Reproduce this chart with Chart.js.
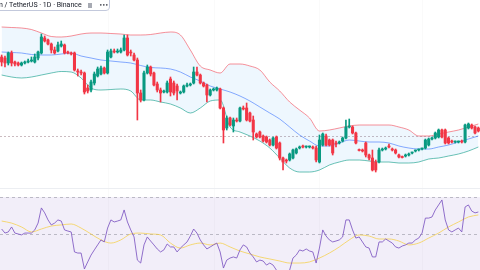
<!DOCTYPE html>
<html>
<head>
<meta charset="utf-8">
<script src="https://cdn.jsdelivr.net/npm/chart.js@4.4.1/dist/chart.umd.min.js"></script>
<style>
  html, body { margin: 0; padding: 0; background: #fff; overflow: hidden; }
  #wrap { position: relative; width: 480px; height: 270px; overflow: hidden; }
  #main { position: absolute; left: 0; top: 0; }
  #rsi { position: absolute; left: 0; top: 188px; }
  #lbox { position: absolute; left: -20px; top: -6px; width: 130px; height: 17px; box-sizing: border-box;
          border: 1px solid #c3c9dc; border-radius: 4px; background: rgba(255,255,255,0.85); }
  #ltext { position: absolute; left: -1px; top: 1px; font: 7px/8px Roboto, "Liberation Sans", sans-serif; color: #131722; white-space: nowrap; }
  #licon { position: absolute; left: 88px; top: 3px; width: 4px; height: 5px; background: #a7aab3; }
  #ldots { position: absolute; left: 99px; top: 1px; font: 6px/8px "DejaVu Sans", sans-serif; color: #4a4d57; letter-spacing: -0.5px; }
</style>
</head>
<body>
<div id="wrap">
  <canvas id="main" width="480" height="188"></canvas>
  <canvas id="rsi" width="480" height="82"></canvas>
  <div id="lbox"></div>
  <div id="ltext">n / TetherUS · 1D · Binance</div>
  <div id="licon"></div>
  <div id="ldots">•••</div>
</div>
<script>
// daily candles (price units)
var open = [143,142,137,147,138,137,135,137,138,139, 138,142,147,162,160,156,150,149,154,155,
            148,147,147,129,128,127,112,110,117,124, 126,132,127,143,149,148,148,150,162,148,
            145,140,107,100,127,133,127,116,110,108, 108,121,117,114,107,108,114,115,117,128,
            125,117,115,105,110,110,111,92,72,82, 74,80,79,92,92,87,80,66,68,64,
            63,60,55,63,57,42,40,40,42,47, 52,54,53,53,53,52,38,55,64,60,
            60,57,57,59,62,73,73,67,50,50, 57,45,42,38,38,50,51,54,51,50,
            45,43,44,45,47,49,50,51,52,55, 61,62,63,70,70,62,59,58,58,59,
            58,72,75,73,72];
var high = [145,144,148,149,139,138,138,139,141,143, 146,149,166,164,161,157,153,158,159,156,
            149,148,148,131,130,128,115,120,128,133, 134,133,150,151,151,151,152,165,165,150,
            147,142,110,129,135,134,128,118,112,110, 119,123,119,116,109,115,117,117,133,133,
            126,118,116,111,112,113,112,93,84,83, 82,82,93,94,97,88,84,67,69,65,
            64,61,63,64,58,43,41,47,51,52, 54,55,54,54,54,54,65,67,66,61,
            61,59,59,63,80,81,74,68,51,51, 58,46,50,40,52,52,53,56,52,51,
            46,44,46,47,48,50,51,52,61,62, 63,68,71,71,71,63,60,59,59,60,
            76,77,76,74,73];
var low = [134,133,135,134,134,134,134,136,137,138, 137,140,146,158,155,147,146,148,153,146,
           146,145,129,124,125,106,107,108,115,123, 125,126,126,142,147,147,147,149,144,144,
           139,80,98,99,126,124,114,108,98,107, 107,104,105,100,106,107,113,114,116,124,
           116,113,98,104,109,109,91,57,70,74, 68,78,78,90,79,78,60,62,62,58,
           57,54,54,51,40,30,37,39,41,46, 51,52,52,52,51,38,37,54,54,54,
           45,53,56,58,61,72,66,56,49,48, 43,40,29,28,37,49,50,52,49,46,
           42,42,43,44,46,48,49,50,51,54, 60,61,62,62,56,56,57,57,57,57,
           57,71,71,66,68];
var close = [138,137,147,137,136,135,137,138,139,140, 143,148,163,159,156,150,147,155,156,147,
             147,146,130,128,127,108,109,118,126,131, 132,127,148,149,148,149,150,162,145,147,
             140,107,100,127,133,126,115,110,107,109, 117,108,107,109,108,114,115,116,128,125,
             117,114,105,110,111,112,92,70,82,75, 80,79,92,91,80,79,68,63,63,59,
             58,55,62,52,42,38,39,46,50,51, 53,53,53.5,54,52,40,60,66,55,55,
             47,56,58,62,73,74,67,57,49.5,49, 45,42,30,30,50,51,52,53,50,47,
             43,42.5,45,46,48,50,51,52,60,61, 62,67,70,63,57,57,58,58.5,59,58,
             75,76,72,67,69];

// Bollinger bands, read every third candle
var bandIdx = [0,3,6,9,12,15,18,21,24,27,30,33,36,39,42,45,48,51,54,57,60,63,66,69,72,
               75,78,81,84,87,90,93,96,99,102,105,108,111,114,117,120,123,126,129,132,135,138,141,144];
var bbUpper = [173,172.5,172,170.5,167,163.5,163,164,166,167,167,166.5,166,165,165,165.5,167,168,165,150,
               134,130,127,136,136,134,130,118,109,98,90,82,69,70,72,74,75,75,75,75,
               73,70,64,64,66,68,70,73,76];
var bbMid = [148,147.5,147,145.5,145,145,146,147,144,142,140,139,138,137,134.5,132.5,132,131,128,123,
             119,114,111,108,104,99,93,87,81,73,65,59,54,54,57,60,59,58,58,57,
             54,52,51,51,53,55,58,61,64];
var bbLower = [125,123,122,123,125,127,128.5,128,122,112,110,110.5,111,109,100,100,98,96,92,87,
               92,99,100,73,68,64,59,52,42,32,28,28,30,35,38,40,40,39,38,38,
               37,37,38,41,42,44,46,49,53];

// RSI (14) per candle, and its moving average read every third candle
var rsi = [52.7,50.5,51.1,53.8,50.5,50.0,49.5,50.5,50.5,50.5, 52.2,55.9,64.1,61.4,57.6,54.9,55.9,57.6,57.0,52.2,
           51.6,51.1,40.3,39.7,39.7,31.1,34.9,38.6,41.4,44.1, 46.8,45.7,53.2,57.6,56.5,57.0,57.6,63.0,56.5,52.2,
           48.4,35.9,34.3,44.1,48.4,46.2,44.1,41.9,40.3,41.4, 44.6,43.0,43.0,40.3,42.4,44.1,45.7,48.9,52.7,50.5,
           46.8,44.1,41.9,43.0,44.1,45.1,40.3,31.6,35.9,37.0, 37.6,37.0,41.4,44.1,43.0,39.7,37.6,34.9,35.9,35.4,
           33.2,34.3,33.2,30.5,27.3,26.2,27.8,30.5,37.0,38.6, 41.4,40.8,41.9,40.8,40.3,34.3,42.4,52.2,48.9,46.8,
           45.7,46.2,46.8,48.4,57.6,57.6,52.2,47.8,48.4,45.7, 43.0,42.4,37.6,37.6,45.7,45.7,47.3,46.2,45.1,43.0,
           42.4,43.5,44.1,45.1,45.1,46.8,47.8,50.5,58.6,58.6, 59.2,63.0,65.7,68.4,57.6,52.2,51.1,52.2,53.2,51.1,
           64.6,65.7,62.4,61.4,61.9];
var rsiMa = [57.0,55.9,53.8,51.1,52.7,54.3,54.9,55.4,53.2,50.0,46.8,45.1,46.8,50.0,50.5,50.0,49.5,45.1,42.4,44.1,
             45.1,44.1,45.1,43.0,40.8,39.2,37.6,36.5,35.4,34.3,34.3,34.9,37.0,39.7,43.0,46.8,49.5,48.9,47.3,47.3,
             46.2,44.1,45.1,47.8,50.5,53.8,56.5,59.2,60.3];
var rsiLevels = [70, 50, 30];
var priceLine = 64;
var gridTicks = [32, 64, 96, 127];

var upColor = '#089981', downColor = '#f23645';
var candleIdx = open.map(function (_, i) { return i; });
var colors = candleIdx.map(function (i) { return close[i] >= open[i] ? upColor : downColor; });

function pts(xs, ys) {
    return xs.map(function (x, i) { return { x: x, y: ys[i] }; });
}

function drawGrid(chart) {
    var ctx = chart.ctx, a = chart.chartArea, x = chart.scales.x;
    ctx.save();
    ctx.strokeStyle = 'rgba(42,46,57,0.022)';
    ctx.lineWidth = 1;
    gridTicks.forEach(function (t) {
        var px = Math.round(x.getPixelForValue(t)) + 0.5;
        ctx.beginPath(); ctx.moveTo(px, a.top); ctx.lineTo(px, a.bottom); ctx.stroke();
    });
    ctx.restore();
}

var mainGrid = {
    id: 'mainGrid',
    beforeDatasetsDraw: function (chart) {
        drawGrid(chart);
        var ctx = chart.ctx, a = chart.chartArea;
        var py = Math.round(chart.scales.y.getPixelForValue(priceLine)) + 0.5;
        ctx.save();
        ctx.strokeStyle = 'rgba(190,170,176,0.8)';
        ctx.setLineDash([2, 2]);
        ctx.beginPath(); ctx.moveTo(a.left, py); ctx.lineTo(a.right, py); ctx.stroke();
        ctx.restore();
    }
};

var rsiBands = {
    id: 'rsiBands',
    beforeDatasetsDraw: function (chart) {
        var ctx = chart.ctx, a = chart.chartArea, y = chart.scales.y;
        var top = y.getPixelForValue(rsiLevels[0]), bot = y.getPixelForValue(rsiLevels[2]);
        ctx.save();
        ctx.fillStyle = 'rgba(126,87,194,0.1)';
        ctx.fillRect(a.left, top, a.right - a.left, bot - top);
        drawGrid(chart);
        ctx.strokeStyle = 'rgba(120,123,134,0.45)';
        ctx.lineWidth = 1;
        ctx.setLineDash([3, 3]);
        rsiLevels.forEach(function (v) {
            var py = Math.round(y.getPixelForValue(v)) + 0.5;
            ctx.beginPath(); ctx.moveTo(a.left, py); ctx.lineTo(a.right, py); ctx.stroke();
        });
        ctx.setLineDash([]);
        ctx.strokeStyle = '#eceef2';
        ctx.beginPath(); ctx.moveTo(a.left, a.top + 0.5); ctx.lineTo(a.right, a.top + 0.5); ctx.stroke();
        ctx.restore();
    }
};

var commonOptions = function (yMin, yMax) {
    return {
        responsive: false,
        animation: false,
        events: [],
        layout: { padding: 0 },
        plugins: { legend: { display: false }, tooltip: { enabled: false } },
        scales: {
            x: { type: 'linear', min: -0.5, max: open.length - 0.5, offset: false, display: false },
            y: { min: yMin, max: yMax, display: false }
        }
    };
};

new Chart(document.getElementById('main'), {
    type: 'bar',
    data: {
        datasets: [
            { type: 'line', data: pts(bandIdx, bbUpper), borderColor: 'rgba(242,54,69,0.55)', borderWidth: 1,
              pointRadius: 0, cubicInterpolationMode: 'monotone', fill: '+2', backgroundColor: 'rgba(33,150,243,0.08)', order: 3 },
            { type: 'line', data: pts(bandIdx, bbMid), borderColor: 'rgba(41,98,255,0.55)', borderWidth: 1,
              pointRadius: 0, cubicInterpolationMode: 'monotone', fill: false, order: 3 },
            { type: 'line', data: pts(bandIdx, bbLower), borderColor: 'rgba(8,153,129,0.6)', borderWidth: 1,
              pointRadius: 0, cubicInterpolationMode: 'monotone', fill: false, order: 3 },
            { data: candleIdx.map(function (i) { return { x: i, y: [low[i], high[i]] }; }),
              backgroundColor: colors, barThickness: 1, grouped: false, order: 2 },
            { data: candleIdx.map(function (i) { return { x: i, y: [open[i], close[i]] }; }),
              backgroundColor: colors, barThickness: 2.4, minBarLength: 1, grouped: false, order: 1 }
        ]
    },
    options: commonOptions(12, 200),
    plugins: [mainGrid]
});

new Chart(document.getElementById('rsi'), {
    type: 'line',
    data: {
        datasets: [
            { data: pts(candleIdx, rsi), borderColor: 'rgba(126,87,194,0.85)', borderWidth: 1, pointRadius: 0, order: 1 },
            { data: pts(bandIdx, rsiMa), borderColor: 'rgba(245,205,60,0.7)', borderWidth: 1, pointRadius: 0,
              cubicInterpolationMode: 'monotone', order: 2 }
        ]
    },
    options: commonOptions(30.54, 74.86),
    plugins: [rsiBands]
});
</script>
</body>
</html>
